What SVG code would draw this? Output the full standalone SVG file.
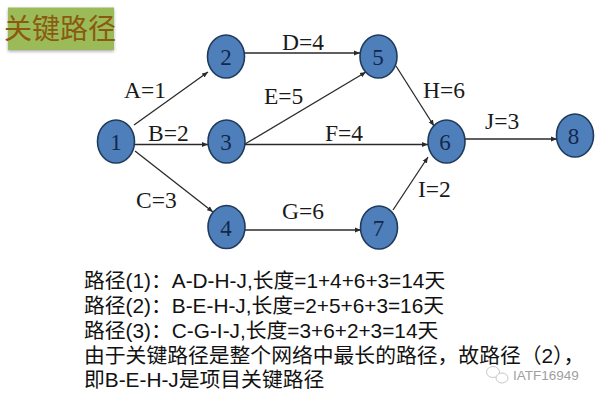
<svg xmlns="http://www.w3.org/2000/svg" width="600" height="400" viewBox="0 0 600 400">
<defs>
<marker id="a" markerUnits="userSpaceOnUse" markerWidth="7" markerHeight="6" refX="6" refY="3" orient="auto"><path d="M0 .5L6 3L0 5.500Z" fill="#2a2a2a"/></marker>
<filter id="s" x="-5%" y="-5%" width="110%" height="120%"><feDropShadow dx="0" dy="1.500" stdDeviation="1.500" flood-color="#aaa"/></filter>
</defs>
<style>
.n{fill:#4f7fbb;stroke:#1f3b5c;stroke-width:1.6}
.nt{font:23px "Liberation Serif",serif;fill:#14284a;text-anchor:middle}
.l{font:23.5px "Liberation Serif",serif;fill:#1a1a1a}
.e{stroke:#2a2a2a;stroke-width:1.3;fill:none;marker-end:url(#a)}
.b{font:20.8px "Liberation Sans","Noto Sans CJK SC",sans-serif;fill:#111}
</style>
<rect width="600" height="400" fill="#fff"/>
<g id="title"><rect x="8" y="7.500" width="106" height="42.500" fill="#9bbb59" filter="url(#s)"/>
<text x="4" y="39" font-family="'Noto Sans CJK SC',sans-serif" font-size="28" fill="#8a5a10" textLength="112">关键路径</text></g>
<g id="connectors">
<line class="e" x1="134" y1="125" x2="208" y2="72"/>
<line class="e" x1="135" y1="144.500" x2="208" y2="144.500"/>
<line class="e" x1="135" y1="151" x2="213" y2="212"/>
<line class="e" x1="245" y1="53" x2="360" y2="53"/>
<line class="e" x1="245" y1="144" x2="366" y2="72"/>
<line class="e" x1="245" y1="144.500" x2="428" y2="144.500"/>
<line class="e" x1="245" y1="230" x2="361" y2="230"/>
<line class="e" x1="396" y1="66" x2="434" y2="126"/>
<line class="e" x1="393" y1="210" x2="428" y2="157"/>
<line class="e" x1="465" y1="139" x2="557" y2="139"/>
</g>
<g id="n1"><ellipse class="n" cx="116" cy="141.500" rx="18.500" ry="21.500"/><text class="nt" x="116" y="149.500">1</text></g>
<g id="n2"><ellipse class="n" cx="226" cy="56.500" rx="18.500" ry="21.500"/><text class="nt" x="226" y="65">2</text></g>
<g id="n3"><ellipse class="n" cx="226.500" cy="141.500" rx="18.500" ry="21.500"/><text class="nt" x="226" y="150">3</text></g>
<g id="n4"><ellipse class="n" cx="226.500" cy="227" rx="18.500" ry="21.500"/><text class="nt" x="226" y="235.500">4</text></g>
<g id="n5"><ellipse class="n" cx="378.500" cy="56.500" rx="18.500" ry="21.500"/><text class="nt" x="378" y="65">5</text></g>
<g id="n6"><ellipse class="n" cx="446.500" cy="141.500" rx="18.500" ry="21.500"/><text class="nt" x="445" y="150">6</text></g>
<g id="n7"><ellipse class="n" cx="379" cy="227.500" rx="18.500" ry="21.500"/><text class="nt" x="378.500" y="236">7</text></g>
<g id="n8"><ellipse class="n" cx="575" cy="135.500" rx="18.500" ry="21.500"/><text class="nt" x="573.500" y="144">8</text></g>
<g id="labels">
<text class="l" x="124" y="98">A=1</text>
<text class="l" x="148" y="141">B=2</text>
<text class="l" x="136" y="208">C=3</text>
<text class="l" x="282" y="50">D=4</text>
<text class="l" x="264" y="104">E=5</text>
<text class="l" x="325" y="141">F=4</text>
<text class="l" x="282" y="219">G=6</text>
<text class="l" x="423" y="98">H=6</text>
<text class="l" x="485" y="129">J=3</text>
<text class="l" x="418" y="197">I=2</text>
</g>
<g id="body">
<text class="b" x="84" y="288">路径(1)：A-D-H-J,长度=1+4+6+3=14天</text>
<text class="b" x="84" y="313">路径(2)：B-E-H-J,长度=2+5+6+3=16天</text>
<text class="b" x="84" y="338">路径(3)：C-G-I-J,长度=3+6+2+3=14天</text>
<text class="b" x="84" y="362.500">由于关键路径是整个网络中最长的路径，故路径（2），</text>
<text class="b" x="84" y="387">即B-E-H-J是项目关键路径</text>
</g>
<g id="watermark"><text x="513" y="380" font-family="'Liberation Sans',sans-serif" font-size="13.500" fill="#a0a0a0">IATF16949</text>
<ellipse cx="493" cy="372" rx="6.500" ry="5.500" fill="none" stroke="#c8c8c8"/><ellipse cx="502" cy="378" rx="6" ry="5" fill="#fff" stroke="#c8c8c8"/></g>
</svg>
